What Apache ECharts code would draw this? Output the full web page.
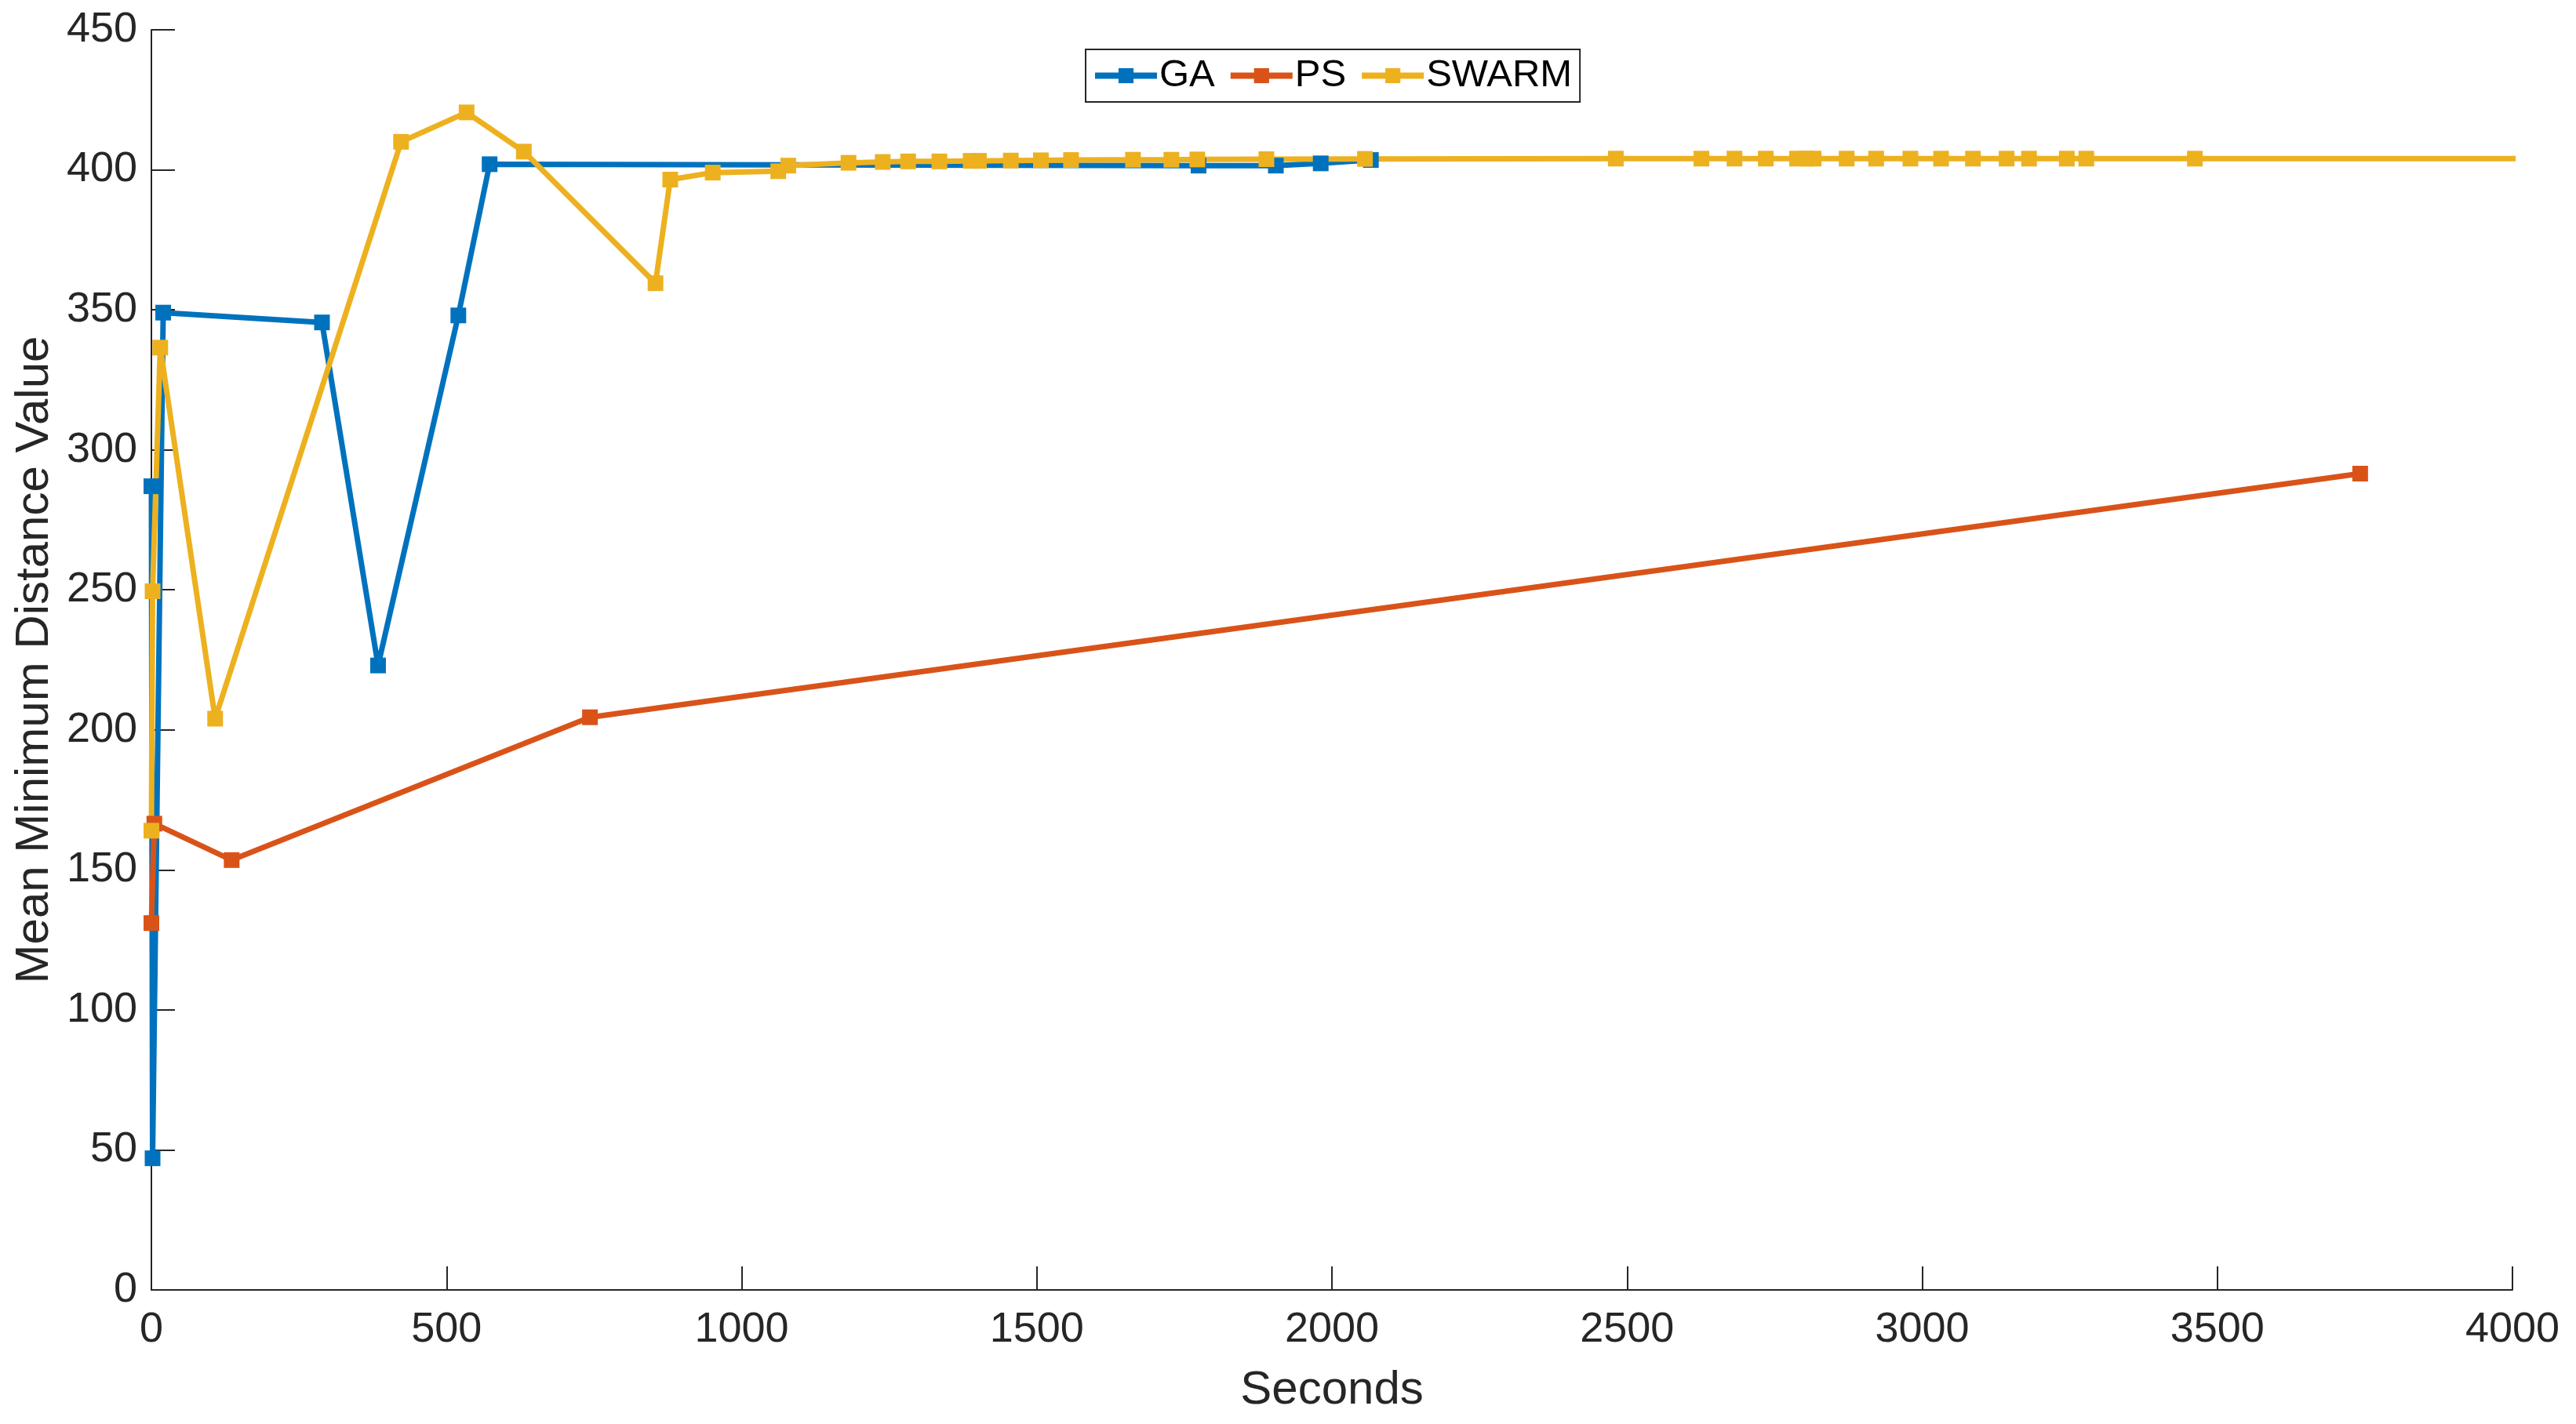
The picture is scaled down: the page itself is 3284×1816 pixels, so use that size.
<!DOCTYPE html>
<html>
<head>
<meta charset="utf-8">
<script src="https://cdn.jsdelivr.net/npm/echarts@6/dist/echarts.min.js"></script>
<style>
html,body{margin:0;padding:0;background:#fff;}
#chart{width:3284px;height:1816px;}
</style>
</head>
<body>
<div id="chart"></div>
<script>
// ---- data (seconds, mean minimum distance value) ----
const gaSeconds = [0, 2, 20, 289, 384, 520, 573, 1774, 1905, 1981, 2066];
const gaValues  = [287, 47, 349, 345.5, 223, 348, 402, 401.5, 401.5, 402.3, 403.5];

const psSeconds = [0, 5, 136, 743, 3742];
const psValues  = [131, 166.5, 153.5, 204.5, 291.5];

const swarmSeconds = [0, 2, 15, 108, 423, 534, 631, 854, 879, 951, 1062, 1079,
  1181, 1239, 1282, 1335, 1388, 1402, 1456, 1507, 1558, 1663, 1728, 1772, 1889, 2056,
  2481, 2626, 2682, 2735, 2788, 2804, 2816, 2872, 2922, 2980, 3032, 3086, 3143, 3181,
  3245, 3278, 3462, 4400];
const swarmValues = [164, 249.5, 336.5, 204, 410, 420.5, 406.5, 359.5, 396.5, 399, 399.5, 401.5,
  402.5, 402.8, 403, 403, 403.2, 403.2, 403.3, 403.4, 403.5, 403.6, 403.6, 403.7, 403.8, 403.9,
  404, 404, 404, 404, 404, 404, 404, 404, 404, 404, 404, 404, 404, 404,
  404, 404, 404, 404];

const xTicks = {min: 0, max: 4000, interval: 500};
const yTicks = {min: 0, max: 450, interval: 50};

const pair = (xs, ys) => xs.map((x, i) => [x, ys[i]]);

const axisColor = '#262626';
const font = 'Liberation Sans, Arial, Helvetica, sans-serif';

const chart = echarts.init(document.getElementById('chart'), null, {renderer: 'canvas'});

function mkSeries(name, data, color) {
  return {
    name: name,
    type: 'line',
    data: data,
    symbol: 'rect',
    symbolSize: 20,
    showAllSymbol: true,
    clip: true,
    lineStyle: {color: color, width: 7},
    itemStyle: {color: color},
    emphasis: {disabled: true},
    animation: false
  };
}

chart.setOption({
  backgroundColor: '#ffffff',
  animation: false,
  textStyle: {fontFamily: font},
  grid: {left: 193, right: 81, top: 38, bottom: 171, containLabel: false},
  legend: {
    data: ['GA', 'PS', 'SWARM'],
    left: 1384,
    top: 63,
    orient: 'horizontal',
    padding: [9, 10, 9, 8],
    itemGap: 16,
    itemWidth: 79,
    itemHeight: 24,
    lineStyle: {width: 8},
    borderColor: axisColor,
    borderWidth: 2,
    backgroundColor: '#ffffff',
    textStyle: {fontSize: 49, color: '#000', fontFamily: font, padding: [0, 0, 0, -2]}
  },
  xAxis: {
    type: 'value',
    min: xTicks.min, max: xTicks.max, interval: xTicks.interval,
    name: 'Seconds',
    nameLocation: 'middle',
    nameGap: 98,
    nameTextStyle: {fontSize: 60, color: axisColor, fontFamily: font},
    axisLine: {show: true, onZero: false, lineStyle: {color: axisColor, width: 2}},
    axisTick: {show: true, inside: true, length: 30, lineStyle: {color: axisColor, width: 2}},
    axisLabel: {fontSize: 54, color: axisColor, margin: 24, fontFamily: font,
      formatter: v => String(v)},
    splitLine: {show: false}
  },
  yAxis: {
    type: 'value',
    min: yTicks.min, max: yTicks.max, interval: yTicks.interval,
    name: 'Mean Minimum Distance Value',
    nameLocation: 'middle',
    nameGap: 116,
    nameTextStyle: {fontSize: 60, color: axisColor, fontFamily: font},
    axisLine: {show: true, onZero: false, lineStyle: {color: axisColor, width: 2}},
    axisTick: {show: true, inside: true, length: 30, lineStyle: {color: axisColor, width: 2}},
    axisLabel: {fontSize: 54, color: axisColor, margin: 18, fontFamily: font,
      formatter: v => String(v)},
    splitLine: {show: false}
  },
  series: [
    mkSeries('GA', pair(gaSeconds, gaValues), '#0072BD'),
    mkSeries('PS', pair(psSeconds, psValues), '#D95319'),
    mkSeries('SWARM', pair(swarmSeconds, swarmValues), '#EDB120')
  ]
});
</script>
</body>
</html>
